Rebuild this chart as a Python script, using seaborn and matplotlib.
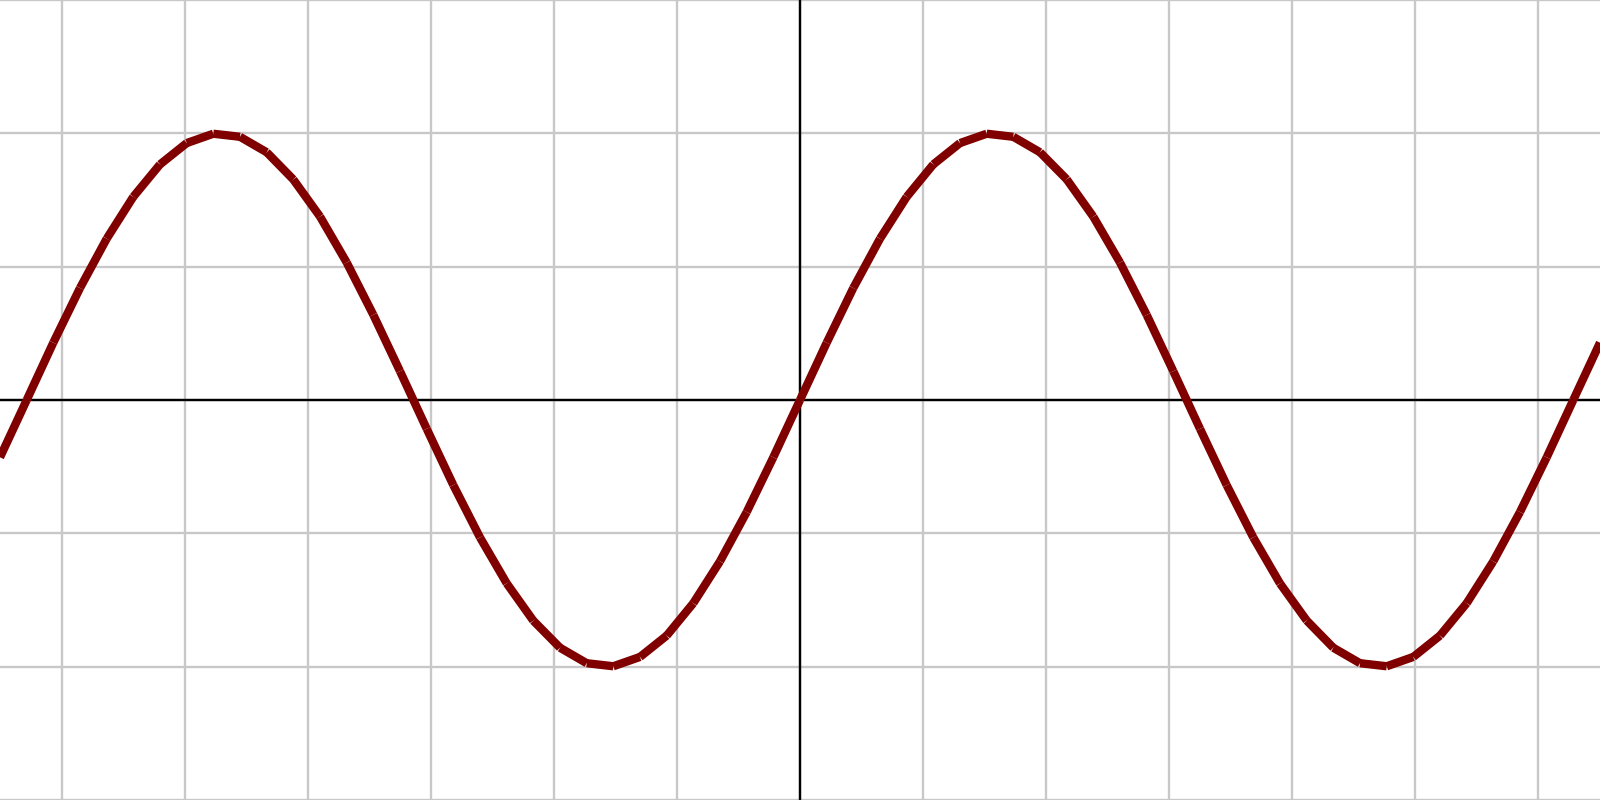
import matplotlib
matplotlib.use("Agg")
import matplotlib.pyplot as plt
import seaborn as sns
import pandas as pd

x_vals = [-6.5, -6.283, -6.067, -5.85, -5.633, -5.417, -5.2, -4.983, -4.767, -4.55,
          -4.333, -4.117, -3.9, -3.683, -3.467, -3.25, -3.033, -2.817, -2.6, -2.383,
          -2.167, -1.95, -1.733, -1.517, -1.3, -1.083, -0.867, -0.65, -0.433, -0.217,
          0.0, 0.217, 0.433, 0.65, 0.867, 1.083, 1.3, 1.517, 1.733, 1.95,
          2.167, 2.383, 2.6, 2.817, 3.033, 3.25, 3.467, 3.683, 3.9, 4.117,
          4.333, 4.55, 4.767, 4.983, 5.2, 5.417, 5.633, 5.85, 6.067, 6.283, 6.5]
y_vals = [-0.430, 0.000, 0.430, 0.840, 1.210, 1.524, 1.767, 1.927, 1.997, 1.974,
          1.858, 1.654, 1.376, 1.031, 0.639, 0.216, -0.216, -0.638, -1.031, -1.375,
          -1.655, -1.858, -1.974, -1.997, -1.927, -1.767, -1.524, -1.210, -0.840, -0.430,
          0.000, 0.430, 0.840, 1.210, 1.524, 1.767, 1.927, 1.997, 1.974, 1.858,
          1.655, 1.375, 1.031, 0.638, 0.216, -0.216, -0.639, -1.031, -1.376, -1.654,
          -1.858, -1.974, -1.997, -1.927, -1.767, -1.524, -1.210, -0.840, -0.430, 0.000,
          0.430]

x_grid = [-6, -5, -4, -3, -2, -1, 0, 1, 2, 3, 4, 5, 6]
y_grid = [-3, -2, -1, 0, 1, 2, 3]

# each piece of the curve is its own short line
rows = []
for i in range(len(x_vals) - 1):
    rows.append({"seg": i, "x": x_vals[i], "y": y_vals[i]})
    rows.append({"seg": i, "x": x_vals[i + 1], "y": y_vals[i + 1]})
seg_df = pd.DataFrame(rows)

sns.set_style("white")

fig = plt.figure(figsize=(16, 8), dpi=100)
ax = fig.add_axes([0, 0, 1, 1])

ax.set_xlim(-6.5, 6.5)
ax.set_ylim(-3, 3)
ax.set_xticks(x_grid)
ax.set_yticks(y_grid)
ax.grid(True, color="#c8c8c8", linewidth=1.7)
ax.tick_params(length=0, labelbottom=False, labelleft=False)
for s in ax.spines.values():
    s.set_visible(False)

ax.axhline(0, color="black", linewidth=1.7, zorder=2)
ax.axvline(0, color="black", linewidth=1.7, zorder=2)

sns.lineplot(data=seg_df, x="x", y="y", units="seg", estimator=None, sort=False,
             color="#800000", linewidth=6, solid_capstyle="butt", legend=False,
             ax=ax, zorder=3)
ax.set_xlabel("")
ax.set_ylabel("")

fig.savefig("out.png", dpi=100)
